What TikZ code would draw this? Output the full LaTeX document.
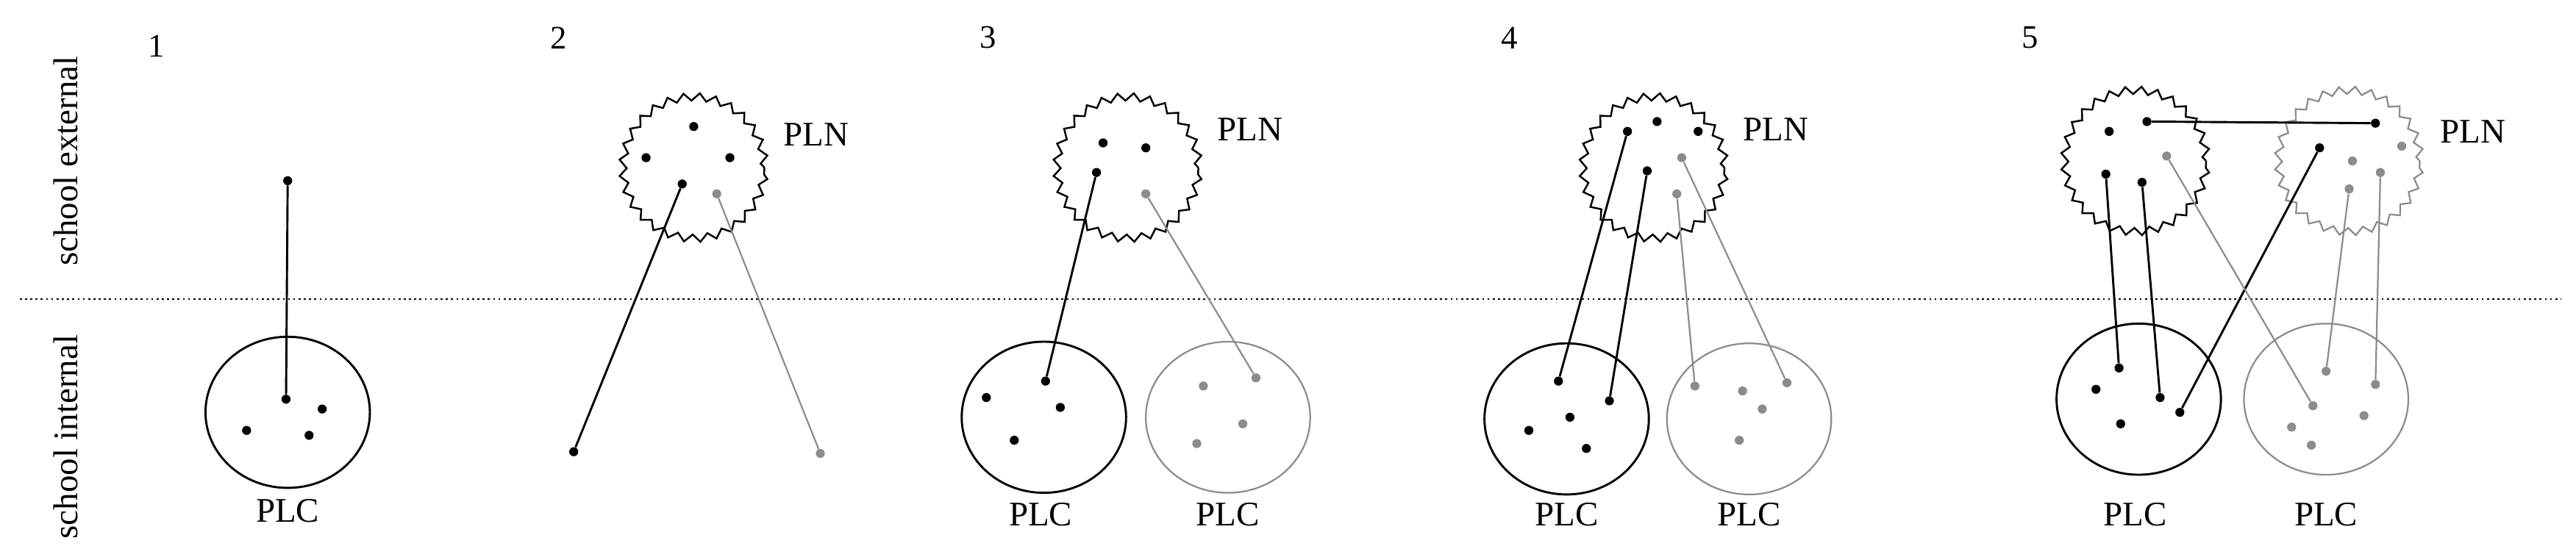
\documentclass[tikz,border=0pt]{standalone}
\usepackage{fontspec}
\setmainfont{Liberation Serif}
\usetikzlibrary{decorations.pathmorphing,shapes.geometric}
\begin{document}
\begin{tikzpicture}[x=1pt,y=-1pt,
  bd/.style={circle,fill=black,inner sep=0pt,minimum size=5.5pt},
  gd/.style={circle,fill=gray!90,inner sep=0pt,minimum size=5.5pt},
  bl/.style={black,line width=1.3pt},
  gl/.style={gray!90,line width=1pt},
  plcb/.style={ellipse,draw=black,line width=1.3pt,minimum width=100pt,minimum height=92pt},
  plcg/.style={ellipse,draw=gray!90,line width=1pt,minimum width=100pt,minimum height=92pt},
  plnb/.style={circle,draw=black,line width=1.1pt,minimum size=86pt,decorate,decoration={zigzag,segment length=9.5pt,amplitude=2.3pt}},
  plng/.style={circle,draw=gray!90,line width=1pt,minimum size=86pt,decorate,decoration={zigzag,segment length=9.5pt,amplitude=2.3pt}},
  lab/.style={font=\fontsize{21}{22}\selectfont},
  num/.style={font=\fontsize{20}{22}\selectfont}]
\useasboundingbox (0,0) rectangle (1567,339);
\coordinate (dl) at (12,182); \coordinate (dr) at (1558,182);
\draw[dotted,line width=1.2pt] (dl) -- (dr);
\node[lab,rotate=90] (se) at (40,98) {school external};
\node[lab,rotate=90] (si) at (40,266) {school internal};
\node[num] (n1) at (95,28) {1};
\node[num] (n2) at (340,23) {2};
\node[num] (n3) at (601,23) {3};
\node[num] (n4) at (918,23) {4};
\node[num] (n5) at (1235,23) {5};
% panel 1
\node[plcb] (c1) at (175,251) {};
\node[lab] (l1) at (175,311) {PLC};
\node[bd] (p1a) at (175,110) {};
\node[bd] (p1b) at (174,243) {};
\node[bd] (p1c) at (196,249) {};
\node[bd] (p1d) at (150,262) {};
\node[bd] (p1e) at (188,265) {};
\draw[bl] (p1a) -- (p1b);
% panel 2
\node[plnb] (s2) at (422,102) {};
\node[lab,anchor=west] (m2) at (473,82) {PLN};
\node[bd] (q2a) at (422,77) {};
\node[bd] (q2b) at (393,96) {};
\node[bd] (q2c) at (444,96) {};
\node[bd] (q2d) at (415,112) {};
\node[gd] (q2e) at (436,118) {};
\node[bd] (q2f) at (349,275) {};
\node[gd] (q2g) at (499,276) {};
\draw[bl] (q2d) -- (q2f);
\draw[gl] (q2e) -- (q2g);
% panel 3
\node[plnb] (s3) at (686,102) {};
\node[lab,anchor=west] (m3) at (737,79) {PLN};
\node[bd] (q3a) at (671,87) {};
\node[bd] (q3b) at (697,90) {};
\node[bd] (q3c) at (667,105) {};
\node[gd] (q3d) at (697,118) {};
\node[plcb] (c3a) at (635,254) {};
\node[plcg] (c3b) at (747,254) {};
\node[lab] (l3a) at (633,313) {PLC};
\node[lab] (l3b) at (747,313) {PLC};
\node[bd] (r3a) at (636,232) {};
\node[bd] (r3b) at (600,242) {};
\node[bd] (r3c) at (645,248) {};
\node[bd] (r3d) at (617,268) {};
\node[gd] (r3e) at (764,230) {};
\node[gd] (r3f) at (732,235) {};
\node[gd] (r3g) at (756,258) {};
\node[gd] (r3h) at (728,270) {};
\draw[bl] (q3c) -- (r3a);
\draw[gl] (q3d) -- (r3e);
% panel 4
\node[plnb] (s4) at (1006,102) {};
\node[lab,anchor=west] (m4) at (1057,79) {PLN};
\node[bd] (q4a) at (990,80) {};
\node[bd] (q4b) at (1008,74) {};
\node[bd] (q4c) at (1033,80) {};
\node[bd] (q4d) at (1002,104) {};
\node[gd] (q4e) at (1023,96) {};
\node[gd] (q4f) at (1020,118) {};
\node[plcb] (c4a) at (953,255) {};
\node[plcg] (c4b) at (1064,255) {};
\node[lab] (l4a) at (953,313) {PLC};
\node[lab] (l4b) at (1064,313) {PLC};
\node[bd] (r4a) at (948,232) {};
\node[bd] (r4b) at (979,244) {};
\node[bd] (r4c) at (955,254) {};
\node[bd] (r4d) at (930,262) {};
\node[bd] (r4e) at (965,273) {};
\node[gd] (r4f) at (1031,235) {};
\node[gd] (r4g) at (1087,233) {};
\node[gd] (r4h) at (1060,238) {};
\node[gd] (r4i) at (1072,249) {};
\node[gd] (r4j) at (1058,268) {};
\draw[bl] (q4a) -- (r4a);
\draw[bl] (q4d) -- (r4b);
\draw[gl] (q4f) -- (r4f);
\draw[gl] (q4e) -- (r4g);
% panel 5
\node[plnb] (s5a) at (1299,98) {};
\node[plng] (s5b) at (1429,98) {};
\node[lab,anchor=west] (m5) at (1481,80) {PLN};
\node[bd] (q5a) at (1283,80) {};
\node[bd] (q5b) at (1306,74) {};
\node[bd] (q5c) at (1281,106) {};
\node[bd] (q5d) at (1303,111) {};
\node[gd] (q5e) at (1318,95) {};
\node[bd] (q5f) at (1411,90) {};
\node[bd] (q5g) at (1445,75) {};
\node[gd] (q5h) at (1431,98) {};
\node[gd] (q5i) at (1461,89) {};
\node[gd] (q5j) at (1448,105) {};
\node[gd] (q5k) at (1429,115) {};
\node[plcb] (c5a) at (1301,243) {};
\node[plcg] (c5b) at (1415,243) {};
\node[lab] (l5a) at (1299,313) {PLC};
\node[lab] (l5b) at (1415,313) {PLC};
\node[bd] (r5a) at (1289,224) {};
\node[bd] (r5b) at (1275,237) {};
\node[bd] (r5c) at (1314,242) {};
\node[bd] (r5d) at (1326,251) {};
\node[bd] (r5e) at (1290,258) {};
\node[gd] (r5f) at (1415,226) {};
\node[gd] (r5g) at (1445,234) {};
\node[gd] (r5h) at (1407,247) {};
\node[gd] (r5i) at (1438,253) {};
\node[gd] (r5j) at (1394,260) {};
\node[gd] (r5k) at (1406,271) {};
\draw[bl] (q5b) -- (q5g);
\draw[bl] (q5c) -- (r5a);
\draw[bl] (q5d) -- (r5c);
\draw[bl] (q5f) -- (r5d);
\draw[gl] (q5e) -- (r5h);
\draw[gl] (q5k) -- (r5f);
\draw[gl] (q5j) -- (r5g);
\end{tikzpicture}
\end{document}
